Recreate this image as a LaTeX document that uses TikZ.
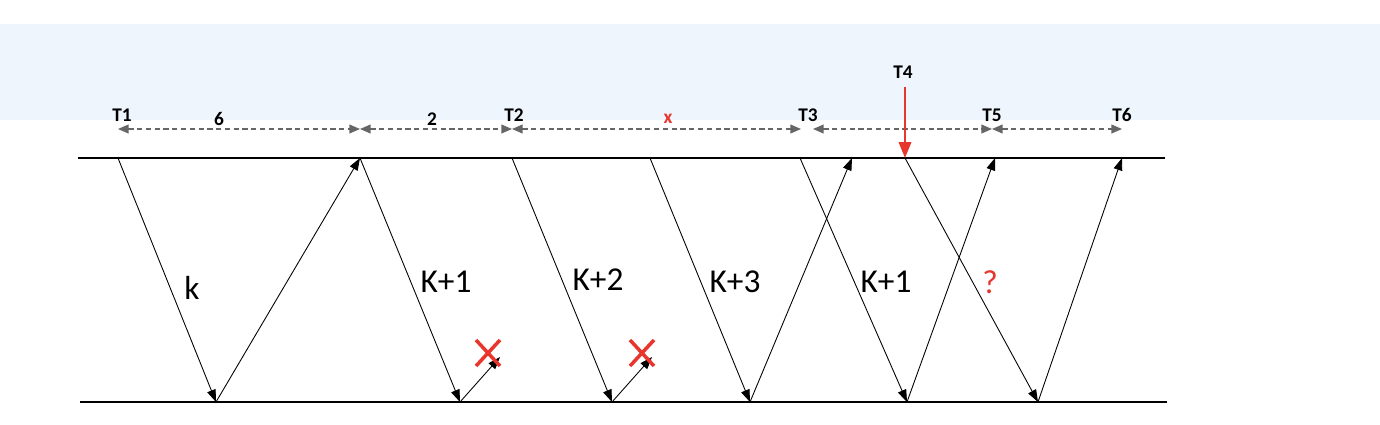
\documentclass[tikz,border=0pt]{standalone}
\usepackage{fontspec}
\setmainfont{Carlito}
\usetikzlibrary{arrows.meta}
\definecolor{band}{HTML}{EEF5FD}
\definecolor{xred}{HTML}{E8362C}
\begin{document}
\begin{tikzpicture}[x=0.02cm,y=-0.02cm,
 msg/.style={-{Triangle[length=7pt,width=5pt]},line width=0.5pt},
 dim/.style={{Triangle[length=6pt,width=5pt]}-{Triangle[length=6pt,width=5pt]},densely dashed,gray!80!black,line width=0.7pt},
 tl/.style={font=\bfseries\fontsize{11}{12}\selectfont,inner sep=0pt},
 big/.style={font=\fontsize{19}{21}\selectfont,inner sep=0pt},
 cross/.style={xred,line width=2pt}]
\useasboundingbox (0,0) rectangle (1380,424);
\fill[band] (0,24) rectangle (1380,120);
\draw[line width=1.2pt] (78,158) coordinate(tl0) -- (1165,158) coordinate(tl1);
\draw[line width=1.2pt] (80,402) coordinate(bl0) -- (1167,402) coordinate(bl1);
% coordinates
\coordinate (a1) at (118,158); \coordinate (b1) at (216,402);
\coordinate (a2) at (360,158); \coordinate (b2) at (460,402);
\coordinate (a3) at (512,158); \coordinate (b3) at (612,402);
\coordinate (a4) at (650,158); \coordinate (b4) at (750,402);
\coordinate (a5) at (800,158); \coordinate (b5) at (907,402);
\coordinate (a6) at (905,158); \coordinate (b6) at (1038,402);
\coordinate (u2) at (852,158); \coordinate (u3) at (995,158); \coordinate (u4) at (1122,158);
\coordinate (l1) at (500,357); \coordinate (l2) at (652,357);
\draw[msg] (a1) -- (b1);
\draw[msg] (b1) -- (a2);
\draw[msg] (a2) -- (b2);
\draw[msg] (b2) -- (l1);
\draw[msg] (a3) -- (b3);
\draw[msg] (b3) -- (l2);
\draw[msg] (a4) -- (b4);
\draw[msg] (b4) -- (u2);
\draw[msg] (a5) -- (b5);
\draw[msg] (b5) -- (u3);
\draw[msg] (a6) -- (b6);
\draw[msg] (b6) -- (u4);
\node[big] (k) at (192,288) {k};
\node[big] (k1) at (446,282) {K+1};
\node[big] (k2) at (598,280) {K+2};
\node[big] (k3) at (735,282) {K+3};
\node[big] (k4) at (886,282) {K+1};
\node[big,text=xred] (q) at (990,282) {?};
\foreach \cx in {488,642}{\draw[cross] (\cx-12,340) -- (\cx+12,366) (\cx-12,366) -- (\cx+12,340);}
% dims
\coordinate (d0) at (118,129); \coordinate (d1) at (360,129); \coordinate (d2) at (512,129);
\coordinate (d3) at (801,129); \coordinate (d4) at (813,129); \coordinate (d5) at (992,129); \coordinate (d6) at (1122,129);
\draw[dim] (d0) -- (d1);
\draw[dim] (d1) -- (d2);
\draw[dim] (d2) -- (d3);
\draw[dim] (d4) -- (d5);
\draw[dim] (d5) -- (d6);
\node[tl] (t1) at (122,115) {T1};
\node[tl] (n6) at (219,119) {6};
\node[tl] (n2) at (432,119) {2};
\node[tl] (t2) at (514,115) {T2};
\node[tl,text=xred] (x) at (668,119) {x};
\node[tl] (t3) at (808,115) {T3};
\node[tl] (t5) at (992,115) {T5};
\node[tl] (t6) at (1122,115) {T6};
\node[tl] (t4) at (903,72) {T4};
\coordinate (r0) at (905,87);
\draw[xred,line width=1.3pt,-{Triangle[length=9pt,width=7pt]}] (r0) -- (a6);
\end{tikzpicture}
\end{document}
